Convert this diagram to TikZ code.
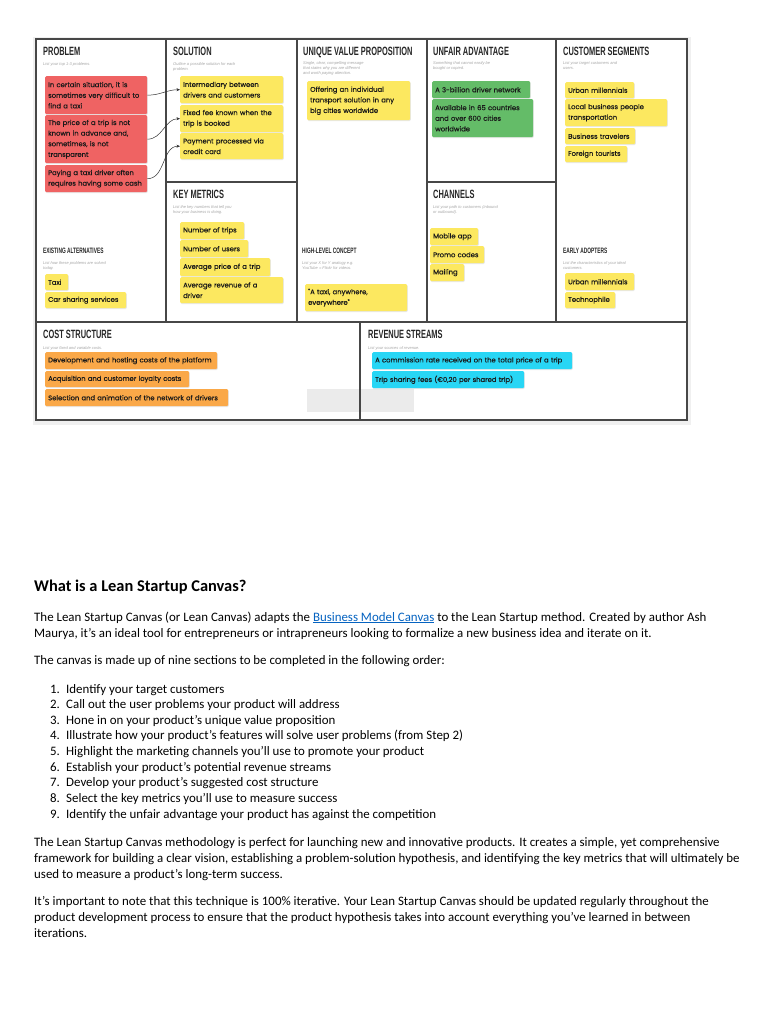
\documentclass[tikz,border=0pt]{standalone}
\usepackage{fontspec}
\setmainfont{Carlito}
\newfontfamily\notefont[FakeBold=0.3]{Poppins}
\newfontfamily\headfont[FakeStretch=0.62]{Liberation Sans}
\newfontfamily\hintfont{Liberation Sans}
\usepackage{tikz}
\usetikzlibrary{positioning}
\usetikzlibrary{arrows.meta}
\usetikzlibrary{shadows}

\definecolor{notered}{RGB}{239,99,99}
\definecolor{noteyellow}{RGB}{252,232,96}
\definecolor{notegreen}{RGB}{100,188,104}
\definecolor{noteorange}{RGB}{250,168,72}
\definecolor{notecyan}{RGB}{40,214,245}
\definecolor{linkblue}{RGB}{5,99,193}

\begin{document}
\begin{tikzpicture}[
    x=1pt, y=-1pt,
    frame/.style={draw=black!72, line width=1.1pt},
    head/.style={anchor=north west, inner sep=0pt, text=black!85, font=\headfont\bfseries\fontsize{12}{13}\selectfont},
    subhead/.style={anchor=north west, inner sep=0pt, text=black!85, font=\headfont\bfseries\fontsize{7.8}{9}\selectfont},
    hint/.style={anchor=north west, inner sep=0pt, align=left, text=black!35, font=\hintfont\itshape\fontsize{4}{5}\selectfont},
    note/.style={anchor=north west, rounded corners=1.2pt, inner xsep=3pt, inner ysep=1pt, align=left, text=black!90,
      font=\notefont\fontsize{6.8}{10.6}\selectfont, drop shadow={opacity=0.18, shadow xshift=0.6pt, shadow yshift=-0.9pt}},
    conn/.style={-{Stealth[length=3.5pt, width=3pt]}, line width=0.5pt, black!80},
    body/.style={anchor=base west, inner sep=0pt, font=\fontsize{12.9}{15}\selectfont}
  ]
  \useasboundingbox (0,0) rectangle (768,1024);
  \fill[white] (0,0) rectangle (768,1024);

  % canvas grid
  \fill[black!6] (33,37) rectangle (691,425);
  \fill[white] (36,39) rectangle (687,420);
  \fill[black!8] (307,389) rectangle (414,412);
  \draw[frame] (36,39) rectangle (687,420);
  \draw[frame] (166,39) -- (166,322) (297,39) -- (297,322) (427,39) -- (427,322) (556,39) -- (556,322);
  \draw[frame] (166,182) -- (297,182) (427,182) -- (556,182);
  \draw[frame] (36,322) -- (687,322) (360,322) -- (360,420);

  % section titles
  \node[head] (problem) at (43,47) {PROBLEM};
  \node[hint] (problemhint) at (43,62) {List your top 1-3 problems.};
  \node[head] (solution) at (173,47) {SOLUTION};
  \node[hint] (solutionhint) at (173,62) {Outline a possible solution for each\\problem.};
  \node[head] (uvp) at (303,47) {UNIQUE VALUE PROPOSITION};
  \node[hint] (uvphint) at (303,61) {Single, clear, compelling message\\that states why you are different\\and worth paying attention.};
  \node[head] (unfair) at (433,47) {UNFAIR ADVANTAGE};
  \node[hint] (unfairhint) at (433,61) {Something that cannot easily be\\bought or copied.};
  \node[head] (segments) at (563,47) {CUSTOMER SEGMENTS};
  \node[hint] (segmentshint) at (563,61) {List your target customers and\\users.};
  \node[head] (metrics) at (173,190) {KEY METRICS};
  \node[hint] (metricshint) at (173,205) {List the key numbers that tell you\\how your business is doing.};
  \node[head] (channels) at (433,190) {CHANNELS};
  \node[hint] (channelshint) at (433,205) {List your path to customers (inbound\\or outbound).};
  \node[subhead] (alternatives) at (43,248) {EXISTING ALTERNATIVES};
  \node[hint] (alternativeshint) at (43,261) {List how these problems are solved\\today.};
  \node[subhead] (concept) at (302,248) {HIGH-LEVEL CONCEPT};
  \node[hint] (concepthint) at (302,261) {List your X for Y analogy e.g.\\YouTube = Flickr for videos.};
  \node[subhead] (adopters) at (563,248) {EARLY ADOPTERS};
  \node[hint] (adoptershint) at (563,261) {List the characteristics of your ideal\\customers.};
  \node[head] (cost) at (43,330) {COST STRUCTURE};
  \node[hint] (costhint) at (43,346) {List your fixed and variable costs.};
  \node[head] (revenue) at (368,330) {REVENUE STREAMS};
  \node[hint] (revenuehint) at (368,346) {List your sources of revenue.};

  % sticky notes
  \node[note, fill=notered, text width=96pt, minimum height=38pt] (prob1) at (45,76) {In certain situation, it is\\sometimes very difficult to\\find a taxi};
  \node[note, fill=notered, text width=96pt, minimum height=48pt] (prob2) at (45,115) {The price of a trip is not\\known in advance and,\\sometimes, is not\\transparent};
  \node[note, fill=notered, text width=96pt, minimum height=27pt] (prob3) at (45,165) {Paying a taxi driver often\\requires having some cash};
  \node[note, fill=noteyellow, text width=97pt, minimum height=27pt] (sol1) at (180,76) {Intermediary between\\drivers and customers};
  \node[note, fill=noteyellow, text width=97pt, minimum height=27pt] (sol2) at (180,105) {Fixed fee known when the\\trip is booked};
  \node[note, fill=noteyellow, text width=97pt, minimum height=26pt] (sol3) at (180,133) {Payment processed via\\credit card};
  \node[note, fill=noteyellow, text width=97pt, minimum height=39pt] (value1) at (307,81) {Offering an individual\\transport solution in any\\big cities worldwide};
  \node[note, fill=notegreen, text width=92pt, minimum height=17pt] (adv1) at (432,81) {A 3-billion driver network};
  \node[note, fill=notegreen, text width=95pt, minimum height=38pt] (adv2) at (432,99) {Available in 65 countries\\and over 600 cities\\worldwide};
  \node[note, fill=noteyellow, text width=63pt, minimum height=16pt] (seg1) at (565,82) {Urban millennials};
  \node[note, fill=noteyellow, text width=96pt, minimum height=27pt] (seg2) at (565,99) {Local business people\\transportation};
  \node[note, fill=noteyellow, text width=64pt, minimum height=16pt] (seg3) at (565,128) {Business travelers};
  \node[note, fill=noteyellow, text width=56pt, minimum height=16pt] (seg4) at (565,146) {Foreign tourists};
  \node[note, fill=noteyellow, text width=58pt, minimum height=17pt] (met1) at (180,222) {Number of trips};
  \node[note, fill=noteyellow, text width=62pt, minimum height=17pt] (met2) at (180,240) {Number of users};
  \node[note, fill=noteyellow, text width=84pt, minimum height=18pt] (met3) at (180,258) {Average price of a trip};
  \node[note, fill=noteyellow, text width=97pt, minimum height=26pt] (met4) at (180,277) {Average revenue of a\\driver};
  \node[note, fill=noteyellow, text width=17pt, minimum height=16pt] (alt1) at (45,274) {Taxi};
  \node[note, fill=noteyellow, text width=75pt, minimum height=16pt] (alt2) at (45,292) {Car sharing services};
  \node[note, fill=noteyellow, text width=42pt, minimum height=17pt] (chan1) at (430,228) {Mobile app};
  \node[note, fill=noteyellow, text width=48pt, minimum height=17pt] (chan2) at (430,246) {Promo codes};
  \node[note, fill=noteyellow, text width=28pt, minimum height=17pt] (chan3) at (430,264) {Mailing};
  \node[note, fill=noteyellow, text width=96pt, minimum height=27pt] (concept1) at (305,284) {"A taxi, anywhere,\\everywhere"};
  \node[note, fill=noteyellow, text width=63pt, minimum height=17pt] (early1) at (565,273) {Urban millennials};
  \node[note, fill=noteyellow, text width=44pt, minimum height=16pt] (early2) at (565,292) {Technophile};
  \node[note, fill=noteorange, text width=166pt, minimum height=17pt] (cost1) at (45,352) {Development and hosting costs of the platform};
  \node[note, fill=noteorange, text width=138pt, minimum height=16pt] (cost2) at (45,371) {Acquisition and customer loyalty costs};
  \node[note, fill=noteorange, text width=177pt, minimum height=17pt] (cost3) at (45,389) {Selection and animation of the network of drivers};
  \node[note, fill=notecyan, text width=194pt, minimum height=17pt] (rev1) at (372,352) {A commission rate received on the total price of a trip};
  \node[note, fill=notecyan, text width=146pt, minimum height=17pt] (rev2) at (372,371) {Trip sharing fees (€0,20 per shared trip)};

  % problem -> solution links
  \draw[conn] (prob1.east) to[out=0, in=180] (sol1.west);
  \draw[conn] (prob2.east) to[out=0, in=180] (sol2.west);
  \draw[conn] (prob3.east) to[out=0, in=180] (sol3.west);

  % article text
  \node[body, font=\bfseries\fontsize{16.4}{19}\selectfont] (title) at (34,591.5) {What is a Lean Startup Canvas?};
  \node[body] (introa) at (34,621) {The Lean Startup Canvas (or Lean Canvas) adapts the {\color{linkblue}\underline{Business Model Canvas}} to the Lean Startup method. Created by author Ash};
  \node[body] (introb) at (34,637) {Maurya, it’s an ideal tool for entrepreneurs or intrapreneurs looking to formalize a new business idea and iterate on it.};
  \node[body] (order) at (34,664) {The canvas is made up of nine sections to be completed in the following order:};
  \foreach \t [count=\i] in {{Identify your target customers}, {Call out the user problems your product will address},
      {Hone in on your product’s unique value proposition}, {Illustrate how your product’s features will solve user problems (from Step 2)},
      {Highlight the marketing channels you’ll use to promote your product}, {Establish your product’s potential revenue streams},
      {Develop your product’s suggested cost structure}, {Select the key metrics you’ll use to measure success},
      {Identify the unfair advantage your product has against the competition}} {
    \node[body] (num\i) at (50,{693+(\i-1)*15.63}) {\i.};
    \node[body] (step\i) at (66,{693+(\i-1)*15.63}) {\t};
  }
  \node[body] (methoda) at (34,846) {The Lean Startup Canvas methodology is perfect for launching new and innovative products. It creates a simple, yet comprehensive};
  \node[body] (methodb) at (34,862) {framework for building a clear vision, establishing a problem-solution hypothesis, and identifying the key metrics that will ultimately be};
  \node[body] (methodc) at (34,878) {used to measure a product’s long-term success.};
  \node[body] (iterata) at (34,905) {It’s important to note that this technique is 100\% iterative. Your Lean Startup Canvas should be updated regularly throughout the};
  \node[body] (iteratb) at (34,921) {product development process to ensure that the product hypothesis takes into account everything you’ve learned in between};
  \node[body] (iteratc) at (34,937) {iterations.};
\end{tikzpicture}
\end{document}
